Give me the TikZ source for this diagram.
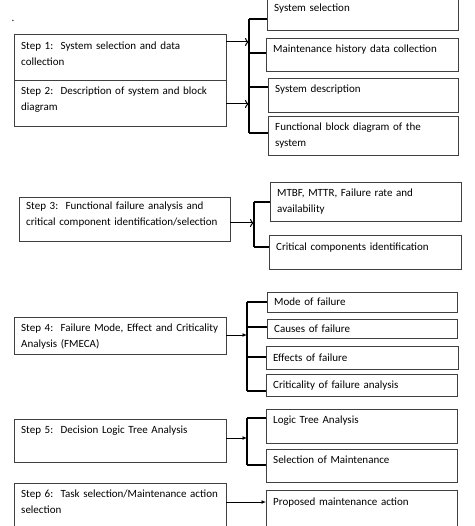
\documentclass[tikz,border=0pt]{standalone}
\usepackage{fontspec}
\setmainfont{Carlito}
\usetikzlibrary{arrows.meta}
\newcommand\bx[7]{% name, left, top, right, bottom, text, text shift
  \node[box, anchor=north west, minimum width={(#4-#2)*1pt}, minimum height={(#5-#3)*1pt}] (#1) at (#2,#3) {};
  \node[txt] (#1t) at ([xshift=7pt,yshift={-(#7+1.5)*1pt}]#1.north west) {#6};
}
\tikzset{
  box/.style={draw=black!75, line width=0.9pt, inner sep=0pt, outer sep=0pt},
  txt/.style={anchor=north west, inner sep=0pt, text width=215pt, align=left, text height=7.5pt,
    font=\fontsize{11}{16}\selectfont, text=black},
  brk/.style={draw=black, line width=1.2pt},
  arrO/.style={draw=black, line width=1pt, -{To[length=4pt,width=8pt,line width=1pt]}},
  arrF/.style={draw=black, line width=1pt, -{Latex[length=4.5pt,width=4pt]}},
}
\begin{document}
\begin{tikzpicture}[x=1pt,y=-1pt]
\useasboundingbox (0,0) rectangle (474,526);
\clip (0,0) rectangle (474,526);
\node[inner sep=0pt, anchor=base, font=\fontsize{11}{12}\selectfont] (dot) at (13,22) {.};
% left boxes
\bx{L1}{14}{34}{226}{80}{Step 1:\, System selection and data\\collection}{6}
\bx{L2}{14}{80}{226}{126}{Step 2:\, Description of system and block\\diagram}{5}
\bx{L3}{19}{197}{230}{241}{Step 3:\, Functional failure analysis and\\critical component identification/selection}{3}
\bx{L4}{14}{317}{226}{354}{Step 4:\, Failure Mode, Effect and Criticality\\Analysis (FMECA)}{5}
\bx{L5}{14}{419}{226}{462}{Step 5:\, Decision Logic Tree Analysis}{5}
\bx{L6}{14}{483}{226}{540}{Step 6:\, Task selection/Maintenance action\\selection}{5}
% right boxes
\bx{r11}{267}{-3}{458}{30}{System selection}{5}
\bx{r12}{266}{38}{458}{71}{Maintenance history data collection}{5}
\bx{r13}{268}{78}{458}{112}{System description}{5}
\bx{r14}{268}{116}{458}{155}{Functional block diagram of the\\system}{5}
\bx{r31}{270}{182}{461}{221}{MTBF, MTTR, Failure rate and\\availability}{5}
\bx{r32}{269}{235}{461}{269}{Critical components identification}{6}
\bx{r41}{267}{292}{457}{312}{Mode of failure}{4}
\bx{r42}{267}{319}{457}{338}{Causes of failure}{4}
\bx{r43}{266}{346}{458}{369}{Effects of failure}{6}
\bx{r44}{266}{374}{457}{396}{Criticality of failure analysis}{5}
\bx{r51}{266}{409}{457}{443}{Logic Tree Analysis}{5}
\bx{r52}{266}{449}{457}{482}{Selection of Maintenance}{5}
\bx{r6}{266}{490}{457}{540}{Proposed maintenance action}{6}
% bracket points
\coordinate (k11) at (249,19);  \coordinate (k12) at (249,53);
\coordinate (k13) at (249,87);  \coordinate (k14) at (249,133);
\coordinate (a1) at (249,42);   \coordinate (a2) at (249,104);
\coordinate (k31) at (254,202); \coordinate (k32) at (254,247);
\coordinate (a3) at (254,223);
\coordinate (k41) at (247,302); \coordinate (k42) at (247,327);
\coordinate (k43) at (247,357); \coordinate (k44) at (247,391);
\coordinate (a4) at (247,335);
\coordinate (k51) at (247,418); \coordinate (k52) at (247,465);
\coordinate (a5) at (247,438);
\coordinate (a6) at (226,502);
% brackets
\draw[brk] (k11) -- (k14);
\draw[brk] (k11) -- (k11 -| r11.west);
\draw[brk] (k12) -- (k12 -| r12.west);
\draw[brk] (k13) -- (k13 -| r13.west);
\draw[brk] (k14) -- (k14 -| r14.west);
\draw[brk] (k31) -- (k32);
\draw[brk] (k31) -- (k31 -| r31.west);
\draw[brk] (k32) -- (k32 -| r32.west);
\draw[brk] (k41) -- (k44);
\draw[brk] (k41) -- (k41 -| r41.west);
\draw[brk] (k42) -- (k42 -| r42.west);
\draw[brk] (k43) -- (k43 -| r43.west);
\draw[brk] (k44) -- (k44 -| r44.west);
\draw[brk] (k51) -- (k52);
\draw[brk] (k51) -- (k51 -| r51.west);
\draw[brk] (k52) -- (k52 -| r52.west);
% arrows
\draw[arrO] (a1 -| L1.east) -- (a1);
\draw[arrO] (a2 -| L2.east) -- (a2);
\draw[arrO] (a3 -| L3.east) -- (a3);
\draw[arrF] (a4 -| L4.east) -- (a4);
\draw[arrF] (a5 -| L5.east) -- (a5);
\draw[arrF] (a6 -| L6.east) -- (a6 -| r6.west);
\end{tikzpicture}
\end{document}
